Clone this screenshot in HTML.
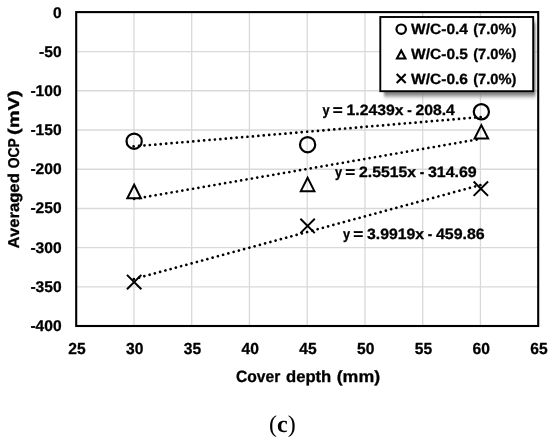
<!DOCTYPE html><html><head><meta charset="utf-8"><title>chart</title><style>html,body{margin:0;padding:0;background:#fff}svg{display:block}text{font-family:"Liberation Sans",sans-serif;font-weight:bold;fill:#000;stroke:#000;stroke-width:0.3px;stroke-linejoin:round;text-rendering:geometricPrecision}</style></head><body>
<svg width="550" height="441" viewBox="0 0 550 441">
<rect width="550" height="441" fill="#fff"/>
<line x1="133.95" y1="12.1" x2="133.95" y2="326.0" stroke="#d9d9d9" stroke-width="1.3"/>
<line x1="191.70" y1="12.1" x2="191.70" y2="326.0" stroke="#d9d9d9" stroke-width="1.3"/>
<line x1="249.45" y1="12.1" x2="249.45" y2="326.0" stroke="#d9d9d9" stroke-width="1.3"/>
<line x1="307.20" y1="12.1" x2="307.20" y2="326.0" stroke="#d9d9d9" stroke-width="1.3"/>
<line x1="364.95" y1="12.1" x2="364.95" y2="326.0" stroke="#d9d9d9" stroke-width="1.3"/>
<line x1="422.70" y1="12.1" x2="422.70" y2="326.0" stroke="#d9d9d9" stroke-width="1.3"/>
<line x1="480.45" y1="12.1" x2="480.45" y2="326.0" stroke="#d9d9d9" stroke-width="1.3"/>
<line x1="76.2" y1="51.54" x2="538.2" y2="51.54" stroke="#d9d9d9" stroke-width="1.3"/>
<line x1="76.2" y1="90.77" x2="538.2" y2="90.77" stroke="#d9d9d9" stroke-width="1.3"/>
<line x1="76.2" y1="130.01" x2="538.2" y2="130.01" stroke="#d9d9d9" stroke-width="1.3"/>
<line x1="76.2" y1="169.25" x2="538.2" y2="169.25" stroke="#d9d9d9" stroke-width="1.3"/>
<line x1="76.2" y1="208.49" x2="538.2" y2="208.49" stroke="#d9d9d9" stroke-width="1.3"/>
<line x1="76.2" y1="247.72" x2="538.2" y2="247.72" stroke="#d9d9d9" stroke-width="1.3"/>
<line x1="76.2" y1="286.96" x2="538.2" y2="286.96" stroke="#d9d9d9" stroke-width="1.3"/>
<line x1="133.60" y1="146.39" x2="480.85" y2="117.04" stroke="#000" stroke-width="2.7" stroke-linecap="round" stroke-dasharray="0.01 5.432"/>
<line x1="134.15" y1="198.95" x2="480.85" y2="138.85" stroke="#000" stroke-width="2.7" stroke-linecap="round" stroke-dasharray="0.01 5.42"/>
<line x1="133.85" y1="279.02" x2="480.85" y2="184.91" stroke="#000" stroke-width="2.7" stroke-linecap="round" stroke-dasharray="0.01 5.43"/>
<rect x="76.2" y="12.1" width="462.00" height="313.90" fill="none" stroke="#000" stroke-width="2.1"/>
<circle cx="134.15" cy="141.19" r="7.6" fill="none" stroke="#000" stroke-width="2.2"/>
<circle cx="307.60" cy="144.72" r="7.6" fill="none" stroke="#000" stroke-width="2.2"/>
<circle cx="481.35" cy="111.76" r="7.6" fill="none" stroke="#000" stroke-width="2.2"/>
<path d="M134.15 184.82 L140.95 198.22 L127.35 198.22 Z" fill="none" stroke="#000" stroke-width="2.0" stroke-linejoin="miter"/>
<path d="M307.60 177.75 L314.40 191.15 L300.80 191.15 Z" fill="none" stroke="#000" stroke-width="2.0" stroke-linejoin="miter"/>
<path d="M481.35 125.17 L488.15 138.57 L474.55 138.57 Z" fill="none" stroke="#000" stroke-width="2.0" stroke-linejoin="miter"/>
<path d="M126.95 274.85 L141.35 289.25 M126.95 289.25 L141.35 274.85" fill="none" stroke="#000" stroke-width="2.0"/>
<path d="M300.40 218.74 L314.80 233.14 M300.40 233.14 L314.80 218.74" fill="none" stroke="#000" stroke-width="2.0"/>
<path d="M473.65 181.47 L488.05 195.87 M473.65 195.87 L488.05 181.47" fill="none" stroke="#000" stroke-width="2.0"/>
<text x="52.93" y="17.80" font-size="15.5" textLength="8.67" lengthAdjust="spacingAndGlyphs">0</text>
<text x="39.07" y="56.94" font-size="15.5" textLength="22.53" lengthAdjust="spacingAndGlyphs">-50</text>
<text x="30.40" y="96.07" font-size="15.5" textLength="31.20" lengthAdjust="spacingAndGlyphs">-100</text>
<text x="30.40" y="135.21" font-size="15.5" textLength="31.20" lengthAdjust="spacingAndGlyphs">-150</text>
<text x="30.40" y="174.35" font-size="15.5" textLength="31.20" lengthAdjust="spacingAndGlyphs">-200</text>
<text x="30.40" y="213.49" font-size="15.5" textLength="31.20" lengthAdjust="spacingAndGlyphs">-250</text>
<text x="30.40" y="252.62" font-size="15.5" textLength="31.20" lengthAdjust="spacingAndGlyphs">-300</text>
<text x="30.40" y="291.76" font-size="15.5" textLength="31.20" lengthAdjust="spacingAndGlyphs">-350</text>
<text x="30.40" y="330.90" font-size="15.5" textLength="31.20" lengthAdjust="spacingAndGlyphs">-400</text>
<text x="68.33" y="354.2" font-size="16.0" textLength="17.34" lengthAdjust="spacingAndGlyphs">25</text>
<text x="126.08" y="354.2" font-size="16.0" textLength="17.34" lengthAdjust="spacingAndGlyphs">30</text>
<text x="183.83" y="354.2" font-size="16.0" textLength="17.34" lengthAdjust="spacingAndGlyphs">35</text>
<text x="241.58" y="354.2" font-size="16.0" textLength="17.34" lengthAdjust="spacingAndGlyphs">40</text>
<text x="299.33" y="354.2" font-size="16.0" textLength="17.34" lengthAdjust="spacingAndGlyphs">45</text>
<text x="357.08" y="354.2" font-size="16.0" textLength="17.34" lengthAdjust="spacingAndGlyphs">50</text>
<text x="414.83" y="354.2" font-size="16.0" textLength="17.34" lengthAdjust="spacingAndGlyphs">55</text>
<text x="472.58" y="354.2" font-size="16.0" textLength="17.34" lengthAdjust="spacingAndGlyphs">60</text>
<text x="530.33" y="354.2" font-size="16.0" textLength="17.34" lengthAdjust="spacingAndGlyphs">65</text>
<text y="382.4" font-size="16.4"><tspan x="235.9" textLength="44.4" lengthAdjust="spacingAndGlyphs">Cover</tspan> <tspan x="286.0" textLength="45.3" lengthAdjust="spacingAndGlyphs">depth</tspan> <tspan x="336.7" textLength="43.4" lengthAdjust="spacingAndGlyphs">(mm)</tspan></text>
<text transform="translate(19.0 0.9) rotate(-90)" font-size="15.7"><tspan x="-247.6" y="0" textLength="75.3" lengthAdjust="spacingAndGlyphs">Averaged</tspan> <tspan x="-167.4" y="0" textLength="29.8" lengthAdjust="spacingAndGlyphs">OCP</tspan> <tspan x="-134.2" y="0" textLength="44.9" lengthAdjust="spacingAndGlyphs">(mV)</tspan></text>
<text y="115.0" font-size="14.9"><tspan x="322.50" textLength="7.1" lengthAdjust="spacingAndGlyphs">y</tspan> <tspan x="332.70" textLength="10" lengthAdjust="spacingAndGlyphs">=</tspan> <tspan x="346.60" textLength="57.0" lengthAdjust="spacingAndGlyphs">1.2439x</tspan> <tspan x="407.20" textLength="4.5" lengthAdjust="spacingAndGlyphs">-</tspan> <tspan x="415.40" textLength="39.4" lengthAdjust="spacingAndGlyphs">208.4</tspan></text>
<text y="176.6" font-size="14.9"><tspan x="335.00" textLength="7.1" lengthAdjust="spacingAndGlyphs">y</tspan> <tspan x="345.20" textLength="10" lengthAdjust="spacingAndGlyphs">=</tspan> <tspan x="359.10" textLength="57.0" lengthAdjust="spacingAndGlyphs">2.5515x</tspan> <tspan x="419.70" textLength="4.5" lengthAdjust="spacingAndGlyphs">-</tspan> <tspan x="427.90" textLength="48.8" lengthAdjust="spacingAndGlyphs">314.69</tspan></text>
<text y="239.3" font-size="14.9"><tspan x="343.00" textLength="7.1" lengthAdjust="spacingAndGlyphs">y</tspan> <tspan x="353.20" textLength="10" lengthAdjust="spacingAndGlyphs">=</tspan> <tspan x="367.10" textLength="57.0" lengthAdjust="spacingAndGlyphs">3.9919x</tspan> <tspan x="427.70" textLength="4.5" lengthAdjust="spacingAndGlyphs">-</tspan> <tspan x="435.90" textLength="48.8" lengthAdjust="spacingAndGlyphs">459.86</tspan></text>
<defs><filter id="sh" x="-10%" y="-10%" width="130%" height="140%"><feGaussianBlur stdDeviation="1.2 2.1"/></filter></defs>
<rect x="384" y="22" width="151.5" height="74.2" fill="#7a7a7a" filter="url(#sh)"/>
<rect x="380.3" y="17.0" width="152.9" height="74.2" fill="#fff" stroke="#000" stroke-width="1.9"/>
<text y="34.30" font-size="14.8"><tspan x="411.0" textLength="57.0" lengthAdjust="spacingAndGlyphs">W/C-0.4</tspan> <tspan x="473.2" textLength="43.3" lengthAdjust="spacingAndGlyphs">(7.0%)</tspan></text>
<text y="58.90" font-size="14.8"><tspan x="411.0" textLength="57.0" lengthAdjust="spacingAndGlyphs">W/C-0.5</tspan> <tspan x="473.2" textLength="43.3" lengthAdjust="spacingAndGlyphs">(7.0%)</tspan></text>
<text y="83.50" font-size="14.8"><tspan x="411.0" textLength="57.0" lengthAdjust="spacingAndGlyphs">W/C-0.6</tspan> <tspan x="473.2" textLength="43.3" lengthAdjust="spacingAndGlyphs">(7.0%)</tspan></text>
<circle cx="401.2" cy="29.2" r="4.7" fill="none" stroke="#000" stroke-width="2.2"/>
<path d="M401.2 50.6 L405.4 58.5 L397.0 58.5 Z" fill="none" stroke="#000" stroke-width="2.1"/>
<path d="M396.7 74.10000000000001 L405.7 83.10000000000001 M396.7 83.10000000000001 L405.7 74.10000000000001" fill="none" stroke="#000" stroke-width="2.1"/>
<text x="282.3" y="432" font-size="24" text-anchor="middle" style="font-family:'Liberation Serif',serif;font-weight:normal;stroke:none">(<tspan style="font-weight:bold">c</tspan>)</text>
</svg></body></html>
